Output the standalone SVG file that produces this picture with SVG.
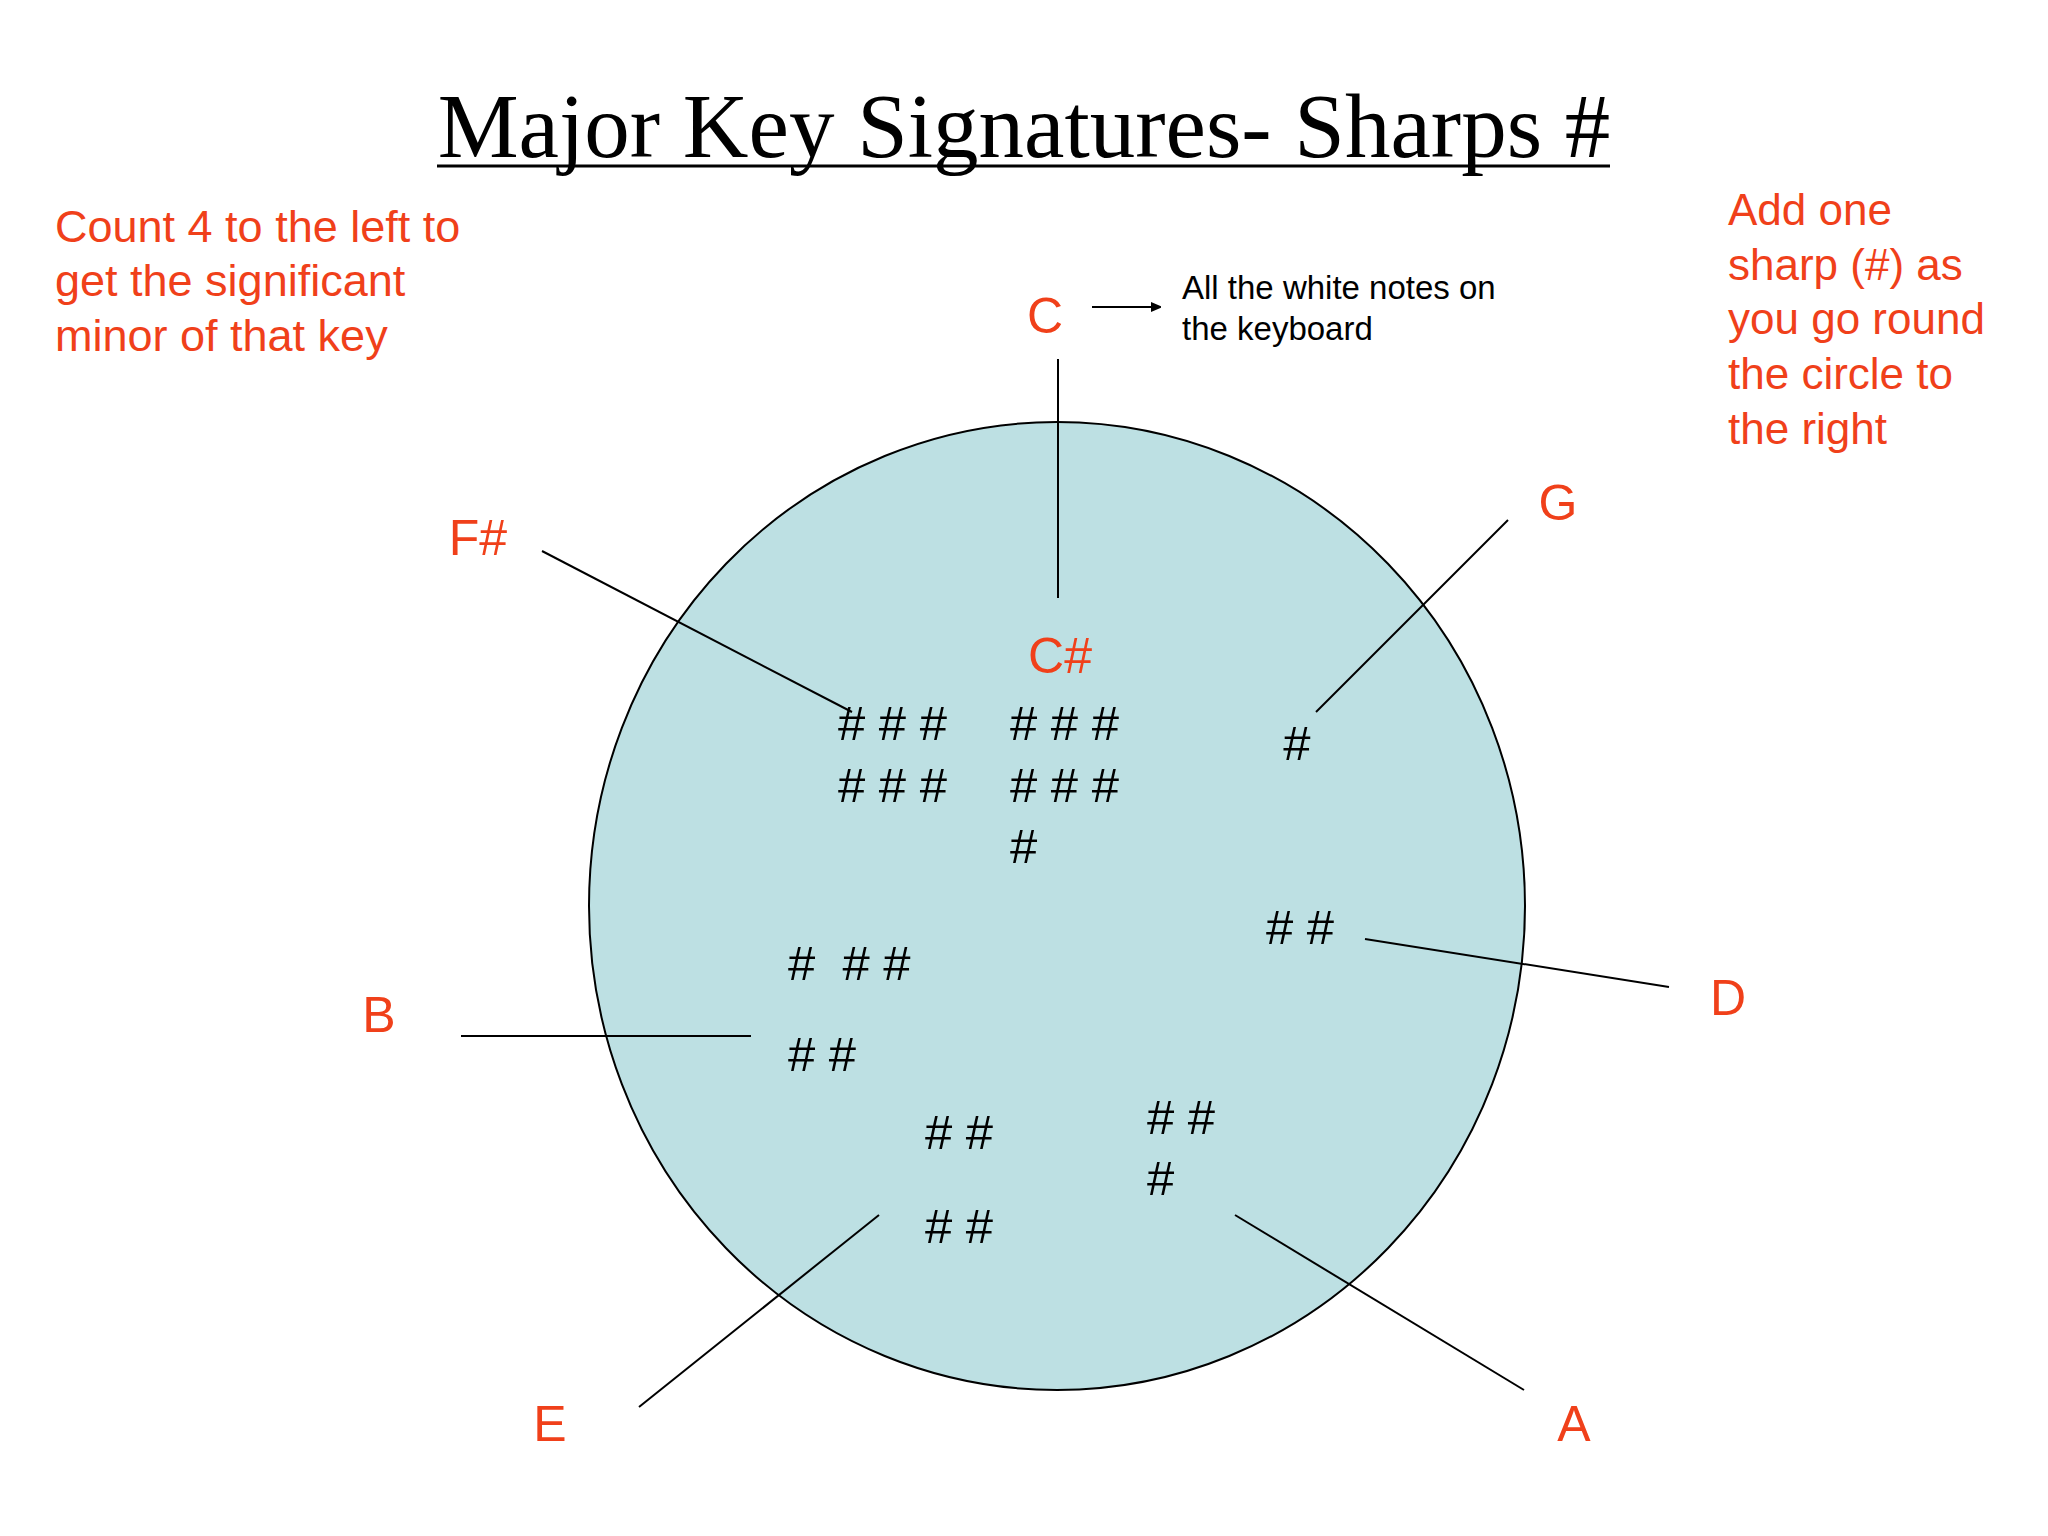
<svg xmlns="http://www.w3.org/2000/svg" width="2048" height="1536" viewBox="0 0 2048 1536">
<style>
.r{font-family:"Liberation Sans",Arial,sans-serif;fill:#f0401a}
.k{font-family:"Liberation Sans",Arial,sans-serif;fill:#000}
.h{font-family:"Liberation Sans",Arial,sans-serif;fill:#000;font-size:49px}
.l{stroke:#000;stroke-width:2;fill:none}
</style>
<defs><marker id="ah" markerWidth="10" markerHeight="10" refX="9" refY="5" orient="auto" markerUnits="userSpaceOnUse"><path d="M0,0 L12,5 L0,10 z" fill="#000"/></marker></defs>
<rect width="2048" height="1536" fill="#fff"/>
<g id="title"><text x="1024" y="157" text-anchor="middle" font-family="Liberation Serif,serif" font-size="91">Major Key Signatures- Sharps #</text><line x1="437" y1="166" x2="1610" y2="166" stroke="#000" stroke-width="3"/></g>
<g id="note-left"><text class="r" font-size="45"><tspan x="55" y="242">Count 4 to the left to</tspan><tspan x="55" y="296">get the significant</tspan><tspan x="55" y="351">minor of that key</tspan></text></g>
<g id="note-right"><text class="r" font-size="44"><tspan x="1728" y="225">Add one</tspan><tspan x="1728" y="280">sharp (#) as</tspan><tspan x="1728" y="334">you go round</tspan><tspan x="1728" y="389">the circle to</tspan><tspan x="1728" y="444">the right</tspan></text></g>
<g id="circle"><ellipse cx="1057" cy="906" rx="468" ry="484" fill="#bde0e3" stroke="#000" stroke-width="2"/></g>
<g id="connectors">
<line class="l" x1="1092" y1="307" x2="1160" y2="307" marker-end="url(#ah)"/>
<line class="l" x1="1058" y1="359" x2="1058" y2="598"/>
<line class="l" x1="1508" y1="520" x2="1316" y2="712"/>
<line class="l" x1="542" y1="551" x2="852" y2="712"/>
<line class="l" x1="1365" y1="939" x2="1669" y2="987"/>
<line class="l" x1="461" y1="1036" x2="751" y2="1036"/>
<line class="l" x1="879" y1="1215" x2="639" y2="1407"/>
<line class="l" x1="1235" y1="1215" x2="1524" y2="1390"/>
</g>
<g id="C"><text class="r" font-size="50" x="1045" y="333" text-anchor="middle">C</text><text class="k" font-size="33"><tspan x="1182" y="299">All the white notes on</tspan><tspan x="1182" y="340">the keyboard</tspan></text></g>
<g id="G"><text class="r" font-size="50" x="1558" y="520" text-anchor="middle">G</text><text class="h" x="1297" y="760" text-anchor="middle">#</text></g>
<g id="D"><text class="r" font-size="50" x="1728" y="1015" text-anchor="middle">D</text><text class="h" x="1266" y="944"># #</text></g>
<g id="A"><text class="r" font-size="50" x="1574" y="1441" text-anchor="middle">A</text><text class="h" x="1147" y="1134"># #</text><text class="h" x="1147" y="1195">#</text></g>
<g id="E"><text class="r" font-size="50" x="550" y="1441" text-anchor="middle">E</text><text class="h" x="925" y="1149"># #</text><text class="h" x="925" y="1243"># #</text></g>
<g id="B"><text class="r" font-size="50" x="379" y="1032" text-anchor="middle">B</text><text class="h" x="788" y="980" xml:space="preserve">#  # #</text><text class="h" x="788" y="1071"># #</text></g>
<g id="Fsharp"><text class="r" font-size="50" x="478" y="555" text-anchor="middle">F#</text><text class="h" x="838" y="740"># # #</text><text class="h" x="838" y="802"># # #</text></g>
<g id="Csharp"><text class="r" font-size="50" x="1060" y="673" text-anchor="middle">C#</text><text class="h" x="1010" y="740"># # #</text><text class="h" x="1010" y="802"># # #</text><text class="h" x="1010" y="863">#</text></g>
</svg>
